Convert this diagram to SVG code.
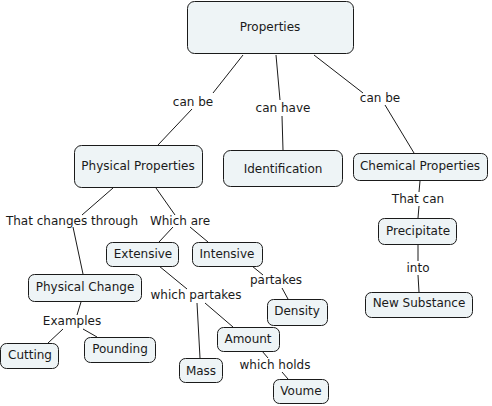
<svg xmlns="http://www.w3.org/2000/svg" width="492" height="406" viewBox="0 0 492 406">
<style>
.n rect{fill:#eef4f6;stroke:#1a1a1a;stroke-width:1}
text{font-family:"DejaVu Sans","Liberation Sans",sans-serif;font-size:12px;fill:#1a1a1a;text-anchor:middle;dominant-baseline:central}
.c line{stroke:#1a1a1a;stroke-width:1}
</style>
<rect width="492" height="406" fill="#fff"/>
<g class="c" id="connectors">
<line x1="243" y1="55" x2="213" y2="93"/>
<line x1="192" y1="109" x2="158" y2="145"/>
<line x1="276" y1="55" x2="280" y2="100"/>
<line x1="282" y1="116" x2="283" y2="150"/>
<line x1="314" y1="55" x2="363" y2="93"/>
<line x1="385" y1="105" x2="414" y2="153"/>
<line x1="113" y1="188" x2="82" y2="215"/>
<line x1="73" y1="227" x2="83" y2="274"/>
<line x1="156" y1="188" x2="175" y2="215"/>
<line x1="173" y1="227" x2="159" y2="242"/>
<line x1="190" y1="227" x2="208" y2="242"/>
<line x1="159" y1="266" x2="187" y2="289"/>
<line x1="197" y1="303" x2="200" y2="358"/>
<line x1="205" y1="303" x2="233" y2="327"/>
<line x1="252" y1="266" x2="263" y2="275"/>
<line x1="282" y1="288" x2="288" y2="299"/>
<line x1="262" y1="351" x2="268" y2="358"/>
<line x1="282" y1="372" x2="288" y2="379"/>
<line x1="81" y1="302" x2="77" y2="315"/>
<line x1="63" y1="329" x2="48" y2="343"/>
<line x1="83" y1="329" x2="97" y2="337"/>
<line x1="420" y1="181" x2="419" y2="192"/>
<line x1="419" y1="206" x2="418" y2="218"/>
<line x1="418" y1="245" x2="418" y2="261"/>
<line x1="418" y1="275" x2="419" y2="292"/>
</g>
<g id="link-labels">
<text x="193" y="102">can be</text>
<text x="283" y="108">can have</text>
<text x="380" y="98">can be</text>
<text x="72" y="221">That changes through</text>
<text x="180" y="221">Which are</text>
<text x="196" y="295">which partakes</text>
<text x="276" y="280">partakes</text>
<text x="275" y="365">which holds</text>
<text x="72" y="321">Examples</text>
<text x="418" y="199">That can</text>
<text x="418" y="268">into</text>
</g>
<g class="n" id="properties"><rect x="187.5" y="1.5" width="166" height="52" rx="7"/><text x="270" y="27">Properties</text></g>
<g class="n" id="physical-properties"><rect x="74.5" y="145.5" width="128" height="42" rx="7"/><text x="138" y="166">Physical Properties</text></g>
<g class="n" id="identification"><rect x="223.5" y="150.5" width="119" height="36" rx="7"/><text x="283" y="169">Identification</text></g>
<g class="n" id="chemical-properties"><rect x="353.5" y="153.5" width="134" height="27" rx="6"/><text x="420" y="166">Chemical Properties</text></g>
<g class="n" id="precipitate"><rect x="378.5" y="218.5" width="78" height="26" rx="6"/><text x="418" y="231">Precipitate</text></g>
<g class="n" id="new-substance"><rect x="365.5" y="292.5" width="107" height="25" rx="6"/><text x="419" y="303">New Substance</text></g>
<g class="n" id="extensive"><rect x="106.5" y="242.5" width="72" height="24" rx="6"/><text x="143" y="254">Extensive</text></g>
<g class="n" id="intensive"><rect x="192.5" y="242.5" width="70" height="24" rx="6"/><text x="227" y="254">Intensive</text></g>
<g class="n" id="physical-change"><rect x="28.5" y="274.5" width="113" height="27" rx="6"/><text x="85" y="287">Physical Change</text></g>
<g class="n" id="cutting"><rect x="0.5" y="343.5" width="58" height="25" rx="6"/><text x="30" y="355">Cutting</text></g>
<g class="n" id="pounding"><rect x="84.5" y="337.5" width="71" height="25" rx="6"/><text x="120" y="349">Pounding</text></g>
<g class="n" id="mass"><rect x="179.5" y="358.5" width="43" height="24" rx="6"/><text x="201" y="371">Mass</text></g>
<g class="n" id="amount"><rect x="217.5" y="327.5" width="62" height="24" rx="6"/><text x="248" y="339">Amount</text></g>
<g class="n" id="density"><rect x="267.5" y="299.5" width="60" height="26" rx="6"/><text x="297" y="311">Density</text></g>
<g class="n" id="voume"><rect x="273.5" y="379.5" width="55" height="24" rx="6"/><text x="301" y="391">Voume</text></g>
</svg>
